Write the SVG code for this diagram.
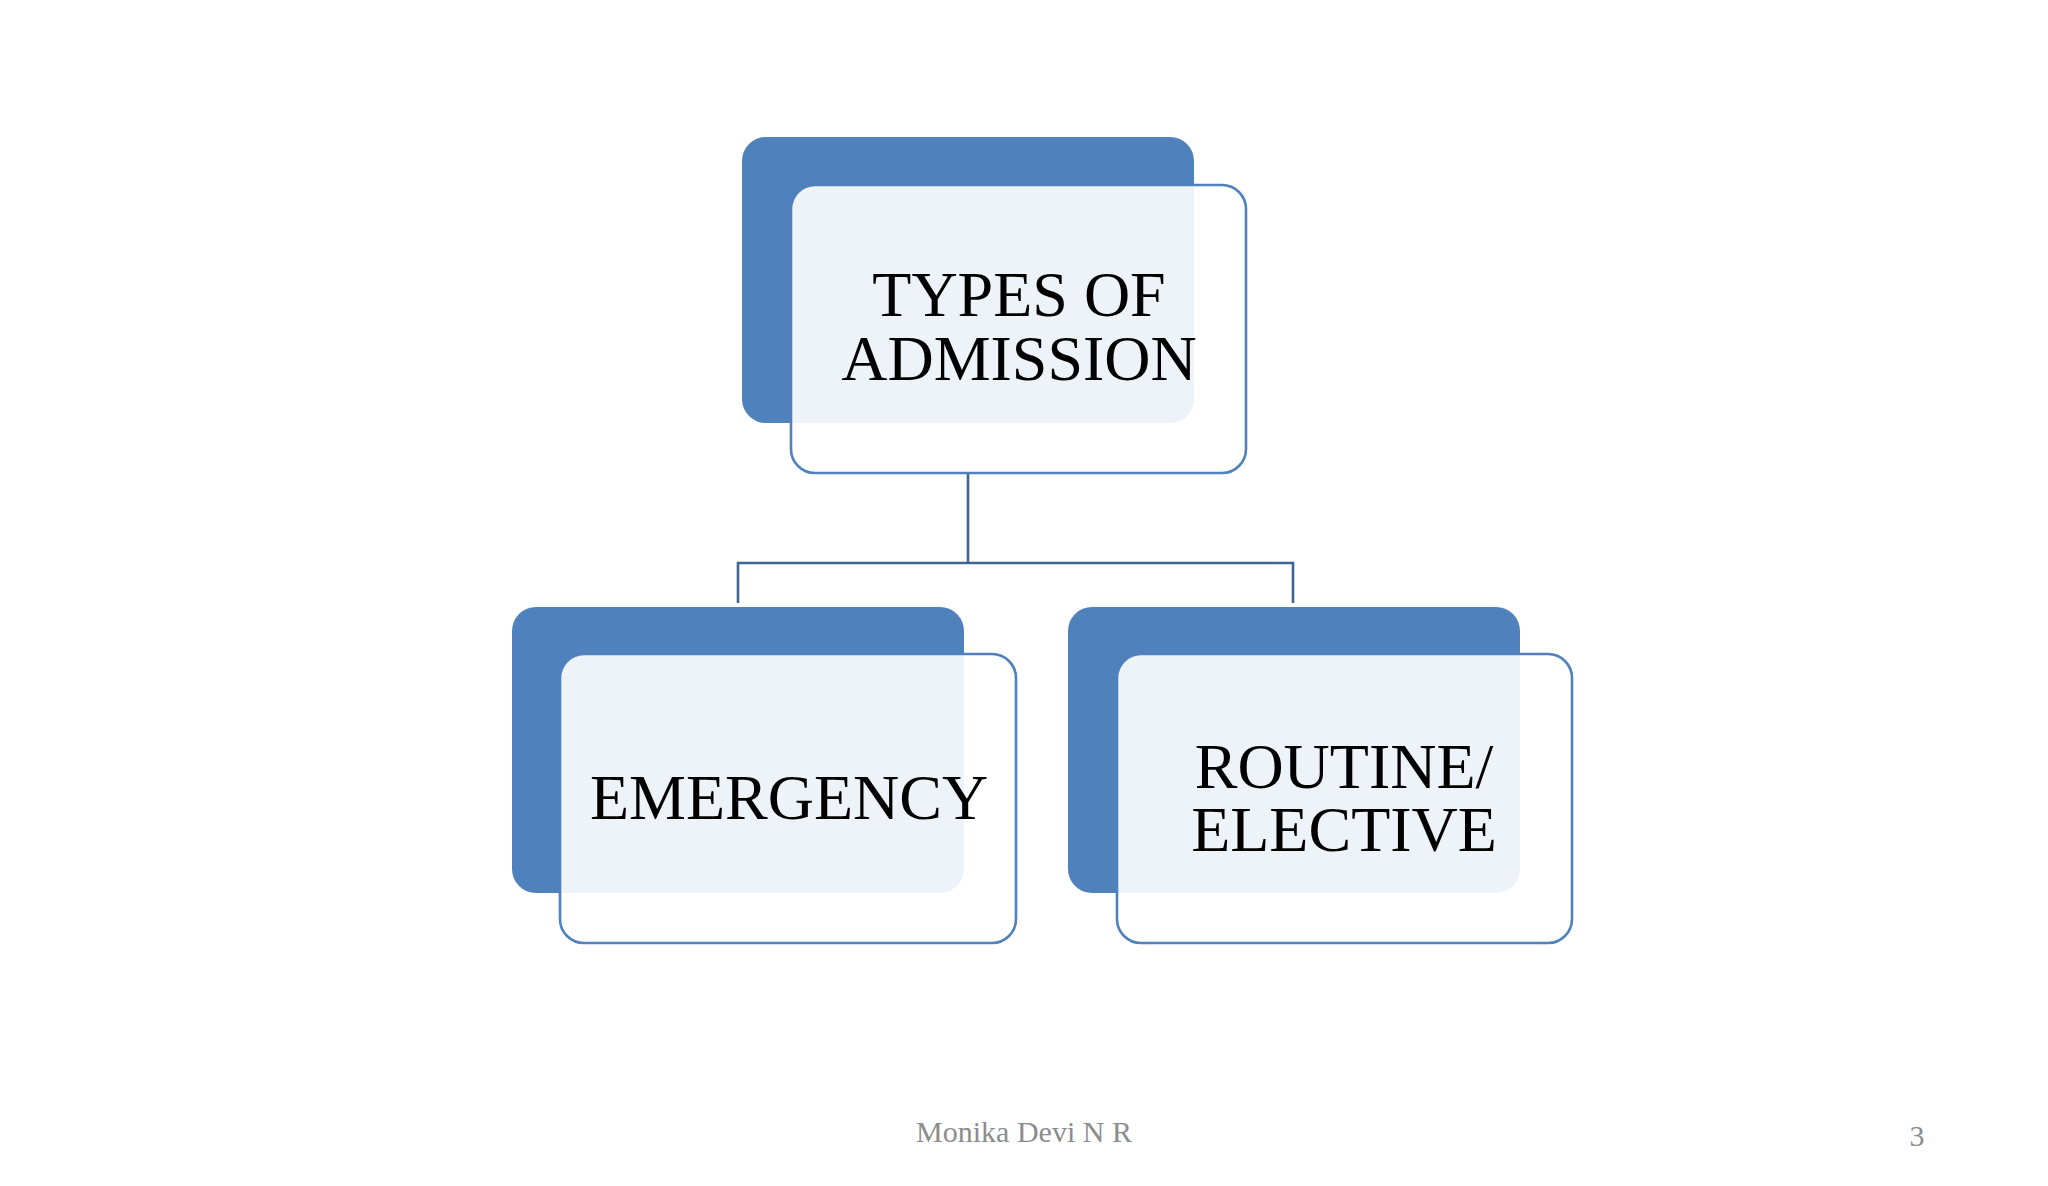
<svg xmlns="http://www.w3.org/2000/svg" width="2048" height="1186" viewBox="0 0 2048 1186">
<style>
.back{fill:#4f81bd}
.front{fill:#ffffff;fill-opacity:0.9;stroke:#4f81bd;stroke-width:2.6}
.t{font-family:"Liberation Serif",serif;font-size:64px;fill:#000;text-anchor:middle}
.f{font-family:"Liberation Serif",serif;font-size:30px;fill:#8c8c8c;text-anchor:middle}
.c{fill:none;stroke:#3f6499;stroke-width:2.6}
</style>
<rect width="2048" height="1186" fill="#fff"/>
<g id="connectors">
<path class="c" d="M968 473V563M738 603V563H1293V603"/>
</g>
<g id="top">
<rect class="back" x="742" y="137" width="452" height="286" rx="24"/>
<rect class="front" x="791" y="185" width="455" height="288" rx="24"/>
<text class="t" x="1019" y="316">TYPES OF</text>
<text class="t" x="1019" y="380">ADMISSION</text>
</g>
<g id="emergency">
<rect class="back" x="512" y="607" width="452" height="286" rx="24"/>
<rect class="front" x="560" y="654" width="456" height="289" rx="24"/>
<text class="t" x="789" y="819">EMERGENCY</text>
</g>
<g id="routine">
<rect class="back" x="1068" y="607" width="452" height="286" rx="24"/>
<rect class="front" x="1117" y="654" width="455" height="289" rx="24"/>
<text class="t" x="1344" y="788">ROUTINE/</text>
<text class="t" x="1344" y="851">ELECTIVE</text>
</g>
<text class="f" x="1024" y="1142">Monika Devi N R</text>
<text class="f" x="1917" y="1146">3</text>
</svg>
